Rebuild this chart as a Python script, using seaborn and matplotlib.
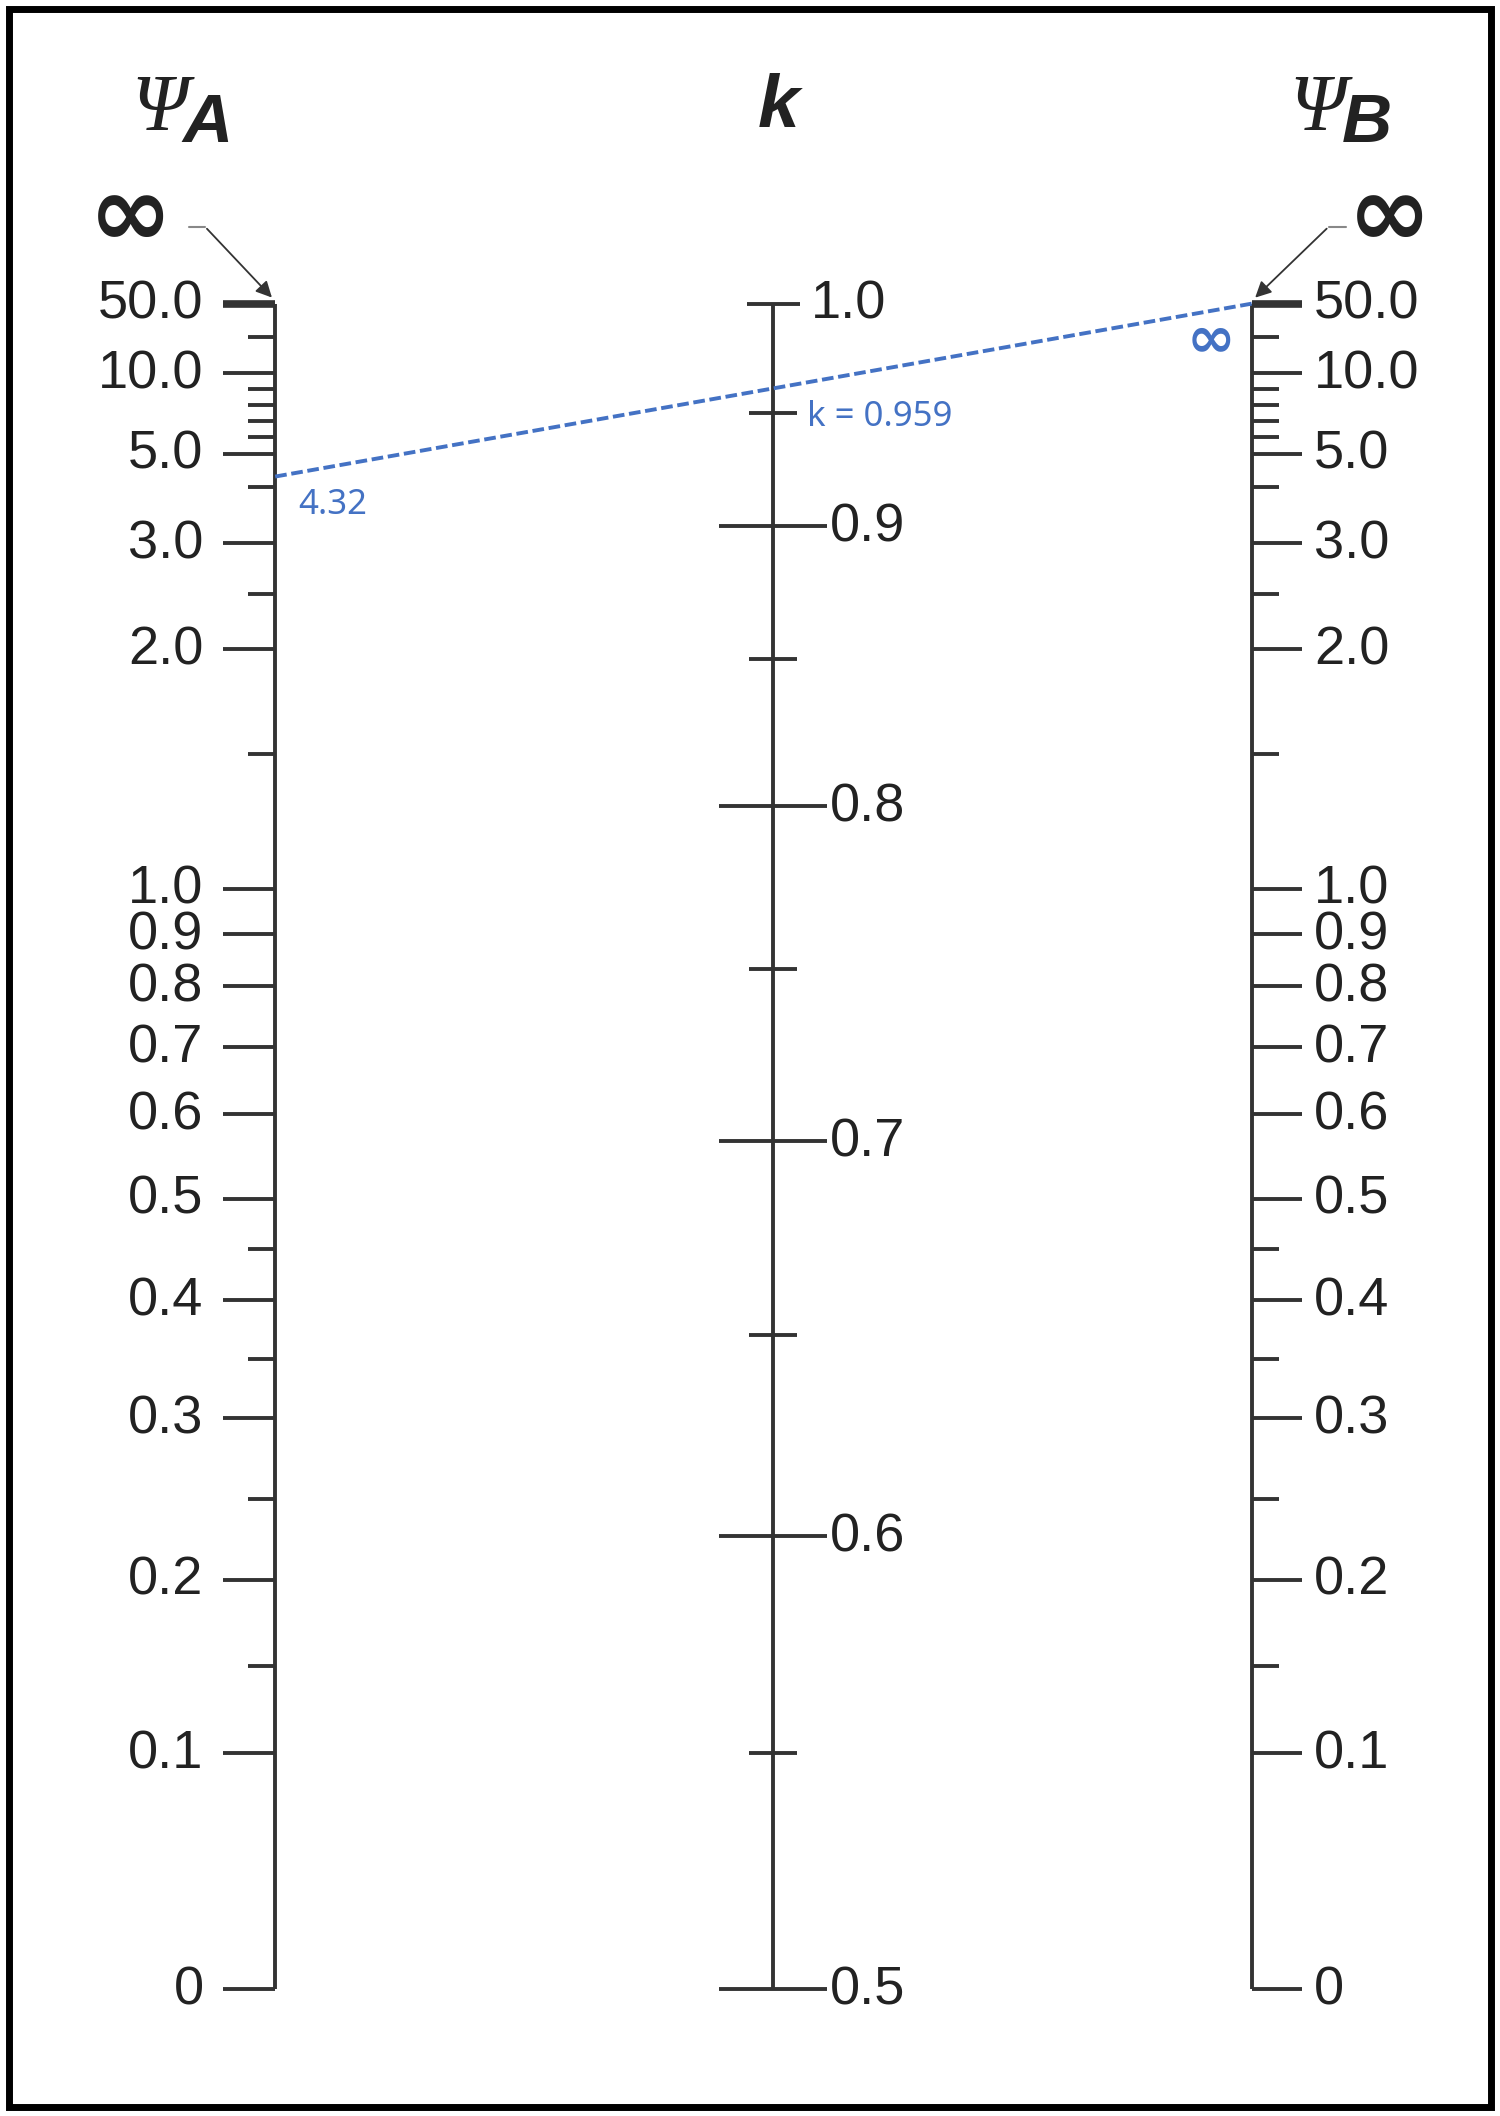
import numpy as np
import matplotlib
matplotlib.use("Agg")
import matplotlib.pyplot as plt
import seaborn as sns

# --- scale data (tick values) ---
psi_major = [50.0, 10.0, 5.0, 3.0, 2.0, 1.0, 0.9, 0.8, 0.7, 0.6, 0.5, 0.4, 0.3, 0.2, 0.1, 0.0]
psi_labels = ['50.0', '10.0', '5.0', '3.0', '2.0', '1.0', '0.9', '0.8', '0.7', '0.6',
              '0.5', '0.4', '0.3', '0.2', '0.1', '0']
psi_minor = [20.0, 9.0, 8.0, 7.0, 6.0, 4.0, 2.5, 1.5, 0.45, 0.35, 0.25, 0.15]
k_major = [1.0, 0.9, 0.8, 0.7, 0.6, 0.5]
k_minor = [0.95, 0.85, 0.75, 0.65, 0.55]

# calibration of the printed (non-linear) scales: value -> fraction of axis height
psi_cal_val = [0.0, 0.1, 0.2, 0.3, 0.4, 0.5, 0.6, 0.7, 0.8, 0.9, 1.0, 1.5, 2.0, 2.5, 3.0, 4.0, 5.0, 10.0, 20.0, 50.0]
psi_cal_frac = [0.0, 0.140, 0.243, 0.339, 0.409, 0.469, 0.519, 0.559, 0.595, 0.626, 0.653,
                0.733, 0.795, 0.828, 0.858, 0.891, 0.911, 0.959, 0.980, 1.0]
k_cal_val = [0.5, 0.55, 0.6, 0.65, 0.7, 0.75, 0.8, 0.85, 0.9, 0.95, 1.0]
k_cal_frac = [0.0, 0.140, 0.269, 0.388, 0.503, 0.605, 0.702, 0.789, 0.868, 0.935, 1.0]

# worked example
psi_a = 4.32
psi_b_label = '∞'
k_result = 0.959

BLUE = '#4472C4'
INK = '#333333'
TXT = '#222222'

sns.set_theme(style='white')
plt.rcParams['font.family'] = ['Liberation Sans', 'DejaVu Sans']

W, H = 1112, 1568
fig = plt.figure(figsize=(15, 21.16), dpi=100)
ax = fig.add_axes([0, 0, 1, 1])
ax.set_xlim(0, W)
ax.set_ylim(H, 0)
ax.axis('off')

Y_TOP, Y_BOT = 225, 1474
XA, XK, XB = 204, 573, 928


def psi_y(v):
    return Y_BOT - np.interp(v, psi_cal_val, psi_cal_frac) * (Y_BOT - Y_TOP)


def k_y(v):
    return Y_BOT - np.interp(v, k_cal_val, k_cal_frac) * (Y_BOT - Y_TOP)


LW = 2.8
FS = 39

# axes lines
for x in (XA, XK, XB):
    ax.plot([x, x], [Y_TOP, Y_BOT], color=INK, lw=LW, solid_capstyle='butt')

# psi scales
for v, lab in zip(psi_major, psi_labels):
    y = psi_y(v)
    w = 5.5 if v == 50.0 else LW
    ax.plot([XA - 39, XA], [y, y], color=INK, lw=w, solid_capstyle='butt')
    ax.plot([XB, XB + 37], [y, y], color=INK, lw=w, solid_capstyle='butt')
    ax.text(XA - 53, y + 1, lab, ha='right', va='center', fontsize=FS, color=TXT)
    ax.text(XB + 46, y + 1, lab, ha='left', va='center', fontsize=FS, color=TXT)
for v in psi_minor:
    y = psi_y(v)
    ax.plot([XA - 20, XA], [y, y], color=INK, lw=LW, solid_capstyle='butt')
    ax.plot([XB, XB + 20], [y, y], color=INK, lw=LW, solid_capstyle='butt')

# k scale
for v in k_major:
    y = k_y(v)
    if v == 1.0:
        ax.plot([XK - 19, XK + 20], [y, y], color=INK, lw=LW, solid_capstyle='butt')
        ax.text(XK + 28, y + 1, f'{v:.1f}', ha='left', va='center', fontsize=FS, color=TXT)
    else:
        ax.plot([XK - 40, XK + 40], [y, y], color=INK, lw=LW, solid_capstyle='butt')
        ax.text(XK + 42, y + 1, f'{v:.1f}', ha='left', va='center', fontsize=FS, color=TXT)
for v in k_minor:
    y = k_y(v)
    ax.plot([XK - 18, XK + 18], [y, y], color=INK, lw=LW, solid_capstyle='butt')

# headers
ax.text(118, 82, 'Ψ', ha='center', va='center', fontsize=58, style='italic',
        family=['Liberation Serif', 'DejaVu Serif'], color=TXT)
ax.text(154, 92, 'A', ha='center', va='center', fontsize=50, style='italic',
        weight='bold', color=TXT)
ax.text(577, 80, 'k', ha='center', va='center', fontsize=54, style='italic',
        weight='bold', color=TXT)
ax.text(977, 82, 'Ψ', ha='center', va='center', fontsize=58, style='italic',
        family=['Liberation Serif', 'DejaVu Serif'], color=TXT)
ax.text(1013, 92, 'B', ha='center', va='center', fontsize=50, style='italic',
        weight='bold', color=TXT)

# infinity markers with arrows
ax.text(97, 162, '∞', ha='center', va='center', fontsize=72, color=TXT,
        weight='bold', family=['DejaVu Sans'])
ax.plot([140, 152], [168, 168], color='#888888', lw=1.5)
ax.annotate('', xy=(XA - 1, Y_TOP - 3), xytext=(152, 168),
            arrowprops=dict(arrowstyle='-|>', color='#333333', lw=1.3, mutation_scale=24))
ax.text(1030, 162, '∞', ha='center', va='center', fontsize=72, color=TXT,
        weight='bold', family=['DejaVu Sans'])
ax.plot([985, 998], [168, 168], color='#888888', lw=1.5)
ax.annotate('', xy=(XB + 1, Y_TOP - 3), xytext=(985, 168),
            arrowprops=dict(arrowstyle='-|>', color='#333333', lw=1.3, mutation_scale=24))

# worked-example line
ya = psi_y(psi_a)
yb = psi_y(max(psi_major))
sns.lineplot(x=[XA, XB], y=[ya, yb], ax=ax, color=BLUE, lw=2.8, linestyle=(0, (3, 1.2)))
ax.text(221, 374, f'{psi_a:.2f}', ha='left', va='center', fontsize=25, color=BLUE,
        family=['Noto Sans', 'DejaVu Sans'])
ax.text(598, 309, f'k = {k_result:.3f}', ha='left', va='center', fontsize=25, color=BLUE,
        family=['Noto Sans', 'DejaVu Sans'])
ax.text(898, 252, psi_b_label, ha='center', va='center', fontsize=42, color=BLUE,
        weight='bold', family=['DejaVu Sans'])

# frame
ax.add_patch(plt.Rectangle((7, 7), W - 14, H - 14, fill=False, ec='black', lw=5))

fig.savefig('out.png', dpi=100)
